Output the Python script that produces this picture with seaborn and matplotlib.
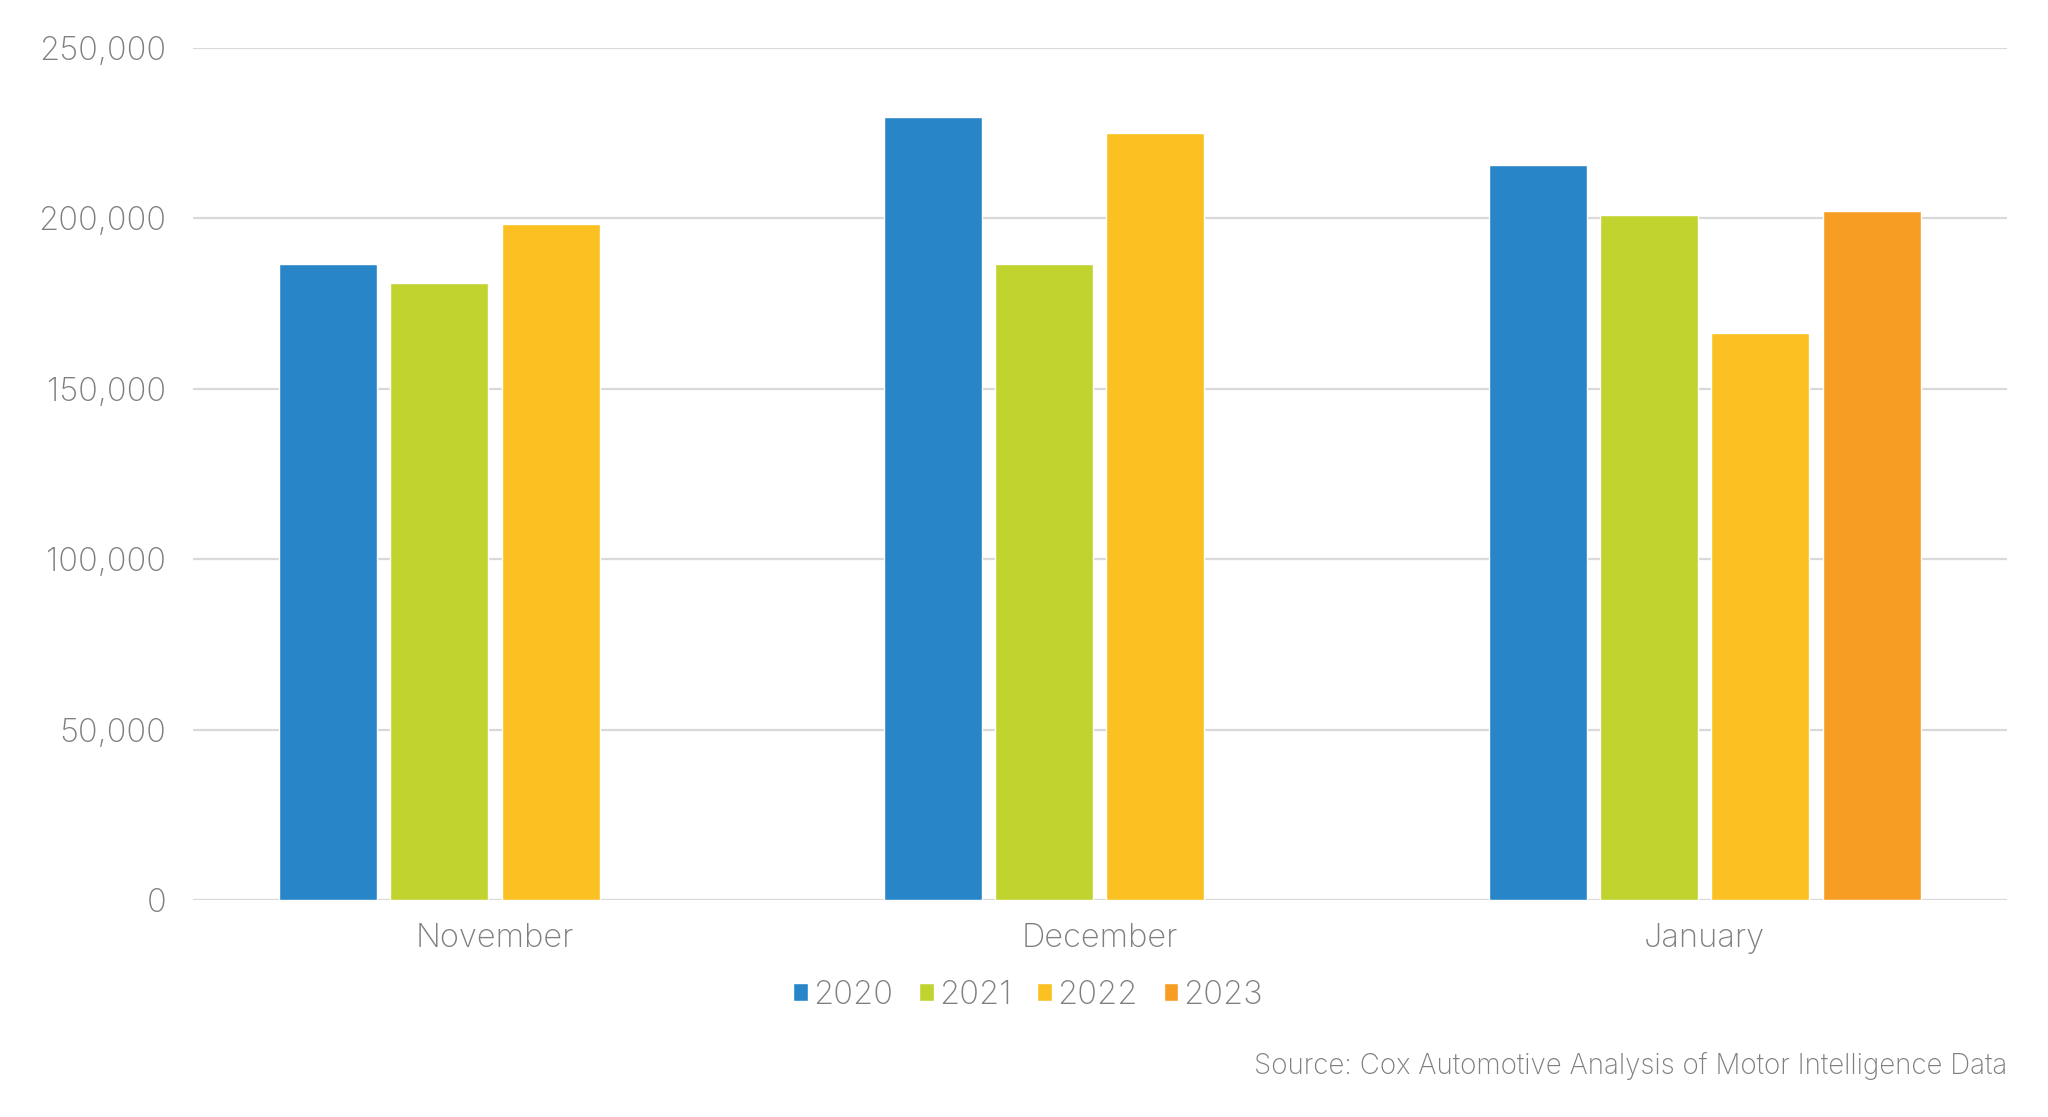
import pandas as pd
import seaborn as sns
import matplotlib.pyplot as plt
from matplotlib.ticker import FuncFormatter

months = ['November', 'December', 'January']
years = ['2020', '2021', '2022', '2023']
sales_2020 = [186700, 229700, 215800]
sales_2021 = [181100, 186700, 201000]
sales_2022 = [198300, 225100, 166300]
sales_2023 = [None, None, 202100]
colors = ['#2886C8', '#C1D32F', '#FBC123', '#F79D23']
yticks = [0, 50000, 100000, 150000, 200000, 250000]

rows = []
for yr, vals in zip(years, [sales_2020, sales_2021, sales_2022, sales_2023]):
    for m, v in zip(months, vals):
        rows.append({'month': m, 'year': yr, 'sales': v})
df = pd.DataFrame(rows)

sns.set_style('white')
plt.rcParams['font.family'] = ['Inter', 'Open Sans', 'DejaVu Sans']
text_color = '#7F7F7F'

fig = plt.figure(figsize=(20.48, 11.17), dpi=100)
ax = fig.add_axes([0.094, 0.194, 0.886, 0.763])

sns.barplot(data=df, x='month', y='sales', hue='year', order=months,
            hue_order=years, palette=colors, width=0.736, gap=0.12,
            saturation=1, ax=ax, legend=True)

ax.set_ylim(0, 250000)
ax.set_xlim(-0.5, 2.5)
ax.set_yticks(yticks)
ax.yaxis.set_major_formatter(FuncFormatter(lambda v, p: f'{int(v):,}'))
ax.grid(axis='y', color='#D9D9D9', linewidth=1.6)
ax.set_axisbelow(True)
for s in ax.spines.values():
    s.set_visible(False)
ax.tick_params(axis='both', length=0, labelsize=23.5, colors=text_color)
ax.tick_params(axis='y', pad=19)
ax.tick_params(axis='x', pad=16)
for lbl in ax.get_xticklabels() + ax.get_yticklabels():
    lbl.set_fontweight('light')
ax.set_xlabel('')
ax.set_ylabel('')

leg = ax.legend(loc='center', bbox_to_anchor=(0.502, 0.109), bbox_transform=fig.transFigure,
                ncol=4, frameon=False, fontsize=23.5, labelcolor=text_color,
                handlelength=0.45, handleheight=0.45, handletextpad=0.15, columnspacing=0.8)
for t in leg.get_texts():
    t.set_fontweight('light')

fig.text(0.980, 0.046, 'Source: Cox Automotive Analysis of Motor Intelligence Data',
         ha='right', va='center', fontsize=20, color=text_color, fontweight='light')

fig.savefig('out.png', dpi=100)
